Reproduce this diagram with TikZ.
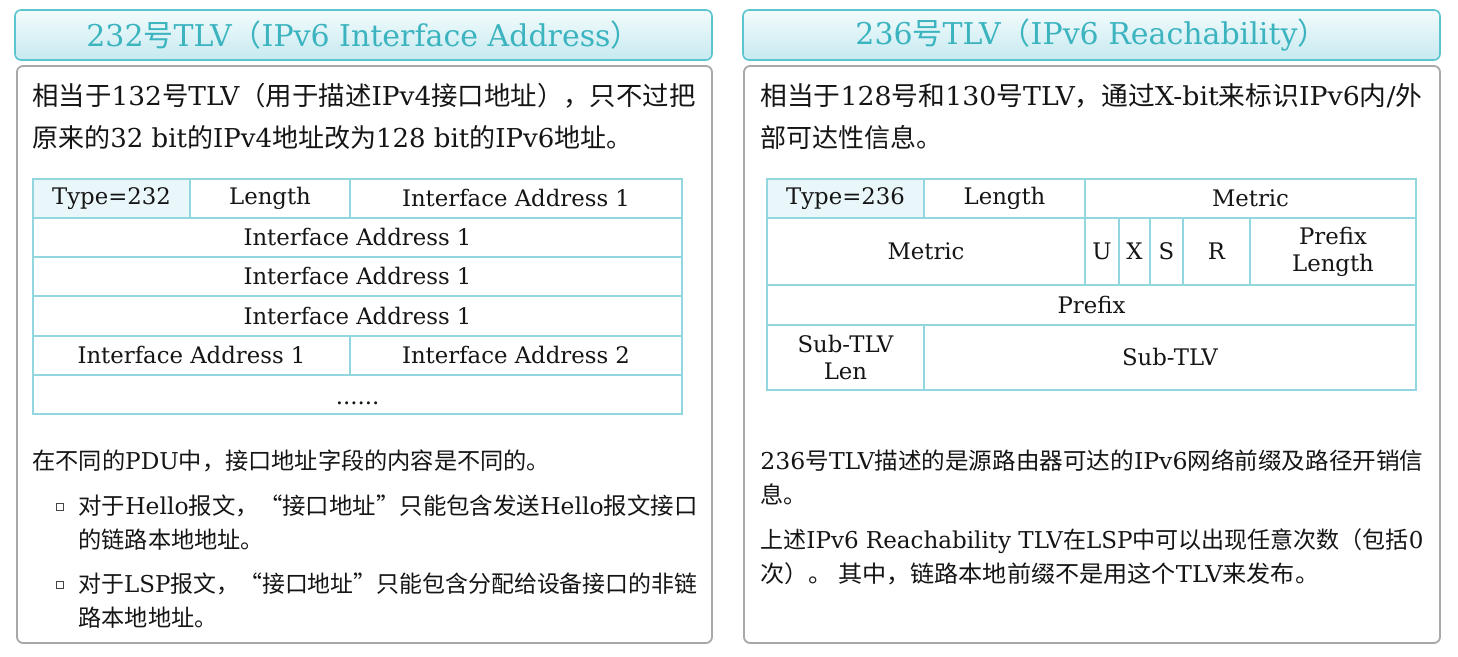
\documentclass[tikz,border=0pt]{standalone}
\usepackage{fontspec}
\usepackage{graphicx}
\setmainfont{DejaVu Serif}
\newfontfamily\cjkf{Noto Sans CJK SC}
\newcommand\zh[1]{{\cjkf #1}}
\newcommand\fitw[2]{\resizebox{#1}{\height}{#2}}
\definecolor{hdrline}{HTML}{5CC4CF}
\definecolor{hdrtext}{HTML}{3CB4C0}
\definecolor{hdrtop}{HTML}{F3FBFC}
\definecolor{hdrbot}{HTML}{C6EAF0}
\definecolor{boxline}{HTML}{A8A8A8}
\definecolor{gridline}{HTML}{92D6DF}
\definecolor{typefill}{HTML}{E9F7FA}
\definecolor{ink}{HTML}{151515}
\tikzset{
  hdrbox/.style={draw=hdrline, line width=0.8pt, rounded corners=3pt, top color=hdrtop, bottom color=hdrbot,
    text=hdrtext, font=\fontsize{15pt}{18pt}\selectfont, inner sep=0pt},
  bodybox/.style={draw=boxline, line width=0.9pt, rounded corners=3pt, fill=white, inner sep=0pt},
  cellbox/.style={draw=gridline, line width=1pt, inner sep=0pt, outer sep=0pt, align=center,
    text=ink, font=\fontsize{11.4pt}{13.5pt}\selectfont},
  typecell/.style={cellbox, fill=typefill},
  bigtxt/.style={anchor=base west, inner sep=0pt, text=ink, font=\fontsize{13pt}{15pt}\selectfont},
  smalltxt/.style={anchor=base west, inner sep=0pt, text=ink, font=\fontsize{11.6pt}{14pt}\selectfont},
  bulletbox/.style={draw=ink!80, line width=0.5pt, minimum size=3.6pt, inner sep=0pt}
}
\newcommand\cell[7][cellbox]{%
  \pgfmathsetmacro\cw{(#5-#3)*0.5}%
  \pgfmathsetmacro\ch{(#6-#4)*0.5}%
  \node[#1, minimum width=\cw pt, minimum height=\ch pt] (#2) at ({(#3+#5)/2},{(#4+#6)/2}) {#7};}
\begin{document}
\begin{tikzpicture}[x=0.5pt,y=-0.5pt]
\useasboundingbox (0,0) rectangle (1458,657);
% ---------------- left panel ----------------
\node[hdrbox, minimum width=348.5pt, minimum height=25pt] (h1) at (363.5,35)
  {232\zh{号}TLV\zh{（}IPv6 Interface Address\zh{）}};
\node[bodybox, minimum width=347.5pt, minimum height=288.5pt] (b1) at (364.5,354.5) {};
\node[bigtxt] (l1) at (32,106) {\fitw{331.5pt}{\zh{相当于}132\zh{号}TLV\zh{（用于描述}IPv4\zh{接口地址），只不过把}}};
\node[bigtxt] (l2) at (32,148) {\zh{原来的}32 bit\zh{的}IPv4\zh{地址改为}128 bit\zh{的}IPv6\zh{地址。}};
\cell[typecell]{a11}{33}{179}{190}{218}{Type=232}
\cell{a12}{190}{179}{350}{218}{Length}
\cell{a13}{350}{179}{682}{218}{Interface Address 1}
\cell{a2}{33}{218}{682}{257}{Interface Address 1}
\cell{a3}{33}{257}{682}{296}{Interface Address 1}
\cell{a4}{33}{296}{682}{336}{Interface Address 1}
\cell{a51}{33}{336}{350}{375}{Interface Address 1}
\cell{a52}{350}{336}{682}{375}{Interface Address 2}
\cell{a6}{33}{375}{682}{414}{\vphantom{Ig}\raisebox{-2pt}{......}}
\node[smalltxt] (l3) at (32,470) {\zh{在不同的}PDU\zh{中，接口地址字段的内容是不同的。}};
\node[bulletbox] (bu1) at (60,507) {};
\node[smalltxt] (l4) at (78,515) {\fitw{309.5pt}{\zh{对于}Hello\zh{报文，“接口地址”只能包含发送}Hello\zh{报文接口}}};
\node[smalltxt] (l5) at (78,549) {\zh{的链路本地地址。}};
\node[bulletbox] (bu2) at (60,585) {};
\node[smalltxt] (l6) at (78,593) {\fitw{309.5pt}{\zh{对于}LSP\zh{报文，“接口地址”只能包含分配给设备接口的非链}}};
\node[smalltxt] (l7) at (78,627) {\zh{路本地地址。}};
% ---------------- right panel ----------------
\node[hdrbox, minimum width=348.5pt, minimum height=25pt] (h2) at (1091.5,35)
  {236\zh{号}TLV\zh{（}IPv6 Reachability\zh{）}};
\node[bodybox, minimum width=348pt, minimum height=288.5pt] (b2) at (1092,354.5) {};
\node[bigtxt] (r1) at (760,106) {\fitw{331pt}{\zh{相当于}128\zh{号和}130\zh{号}TLV\zh{，通过}X-bit\zh{来标识}IPv6\zh{内}/\zh{外}}};
\node[bigtxt] (r2) at (760,148) {\zh{部可达性信息。}};
\cell[typecell]{c11}{767}{179}{924}{218}{Type=236}
\cell{c12}{924}{179}{1085}{218}{Length}
\cell{c13}{1085}{179}{1416}{218}{Metric}
\cell{c21}{767}{218}{1085}{285}{Metric}
\cell{c22}{1085}{218}{1119}{285}{U}
\cell{c23}{1119}{218}{1150}{285}{X}
\cell{c24}{1150}{218}{1183}{285}{S}
\cell{c25}{1183}{218}{1250}{285}{R}
\cell{c26}{1250}{218}{1416}{285}{Prefix\\Length}
\cell{c3}{767}{285}{1416}{325}{Prefix}
\cell{c41}{767}{325}{924}{390}{Sub-TLV\\Len}
\cell{c42}{924}{325}{1416}{390}{Sub-TLV}
\node[smalltxt] (r3) at (760,470) {\fitw{331.5pt}{236\zh{号}TLV\zh{描述的是源路由器可达的}IPv6\zh{网络前缀及路径开销信}}};
\node[smalltxt] (r4) at (760,504) {\zh{息。}};
\node[smalltxt] (r5) at (760,549) {\fitw{331.5pt}{\zh{上述}IPv6 Reachability TLV\zh{在}LSP\zh{中可以出现任意次数（包括}0}};
\node[smalltxt] (r6) at (760,583) {\scalebox{1.04}[1]{\zh{次）。 其中，链路本地前缀不是用这个}TLV\zh{来发布。}}};
\end{tikzpicture}
\end{document}
